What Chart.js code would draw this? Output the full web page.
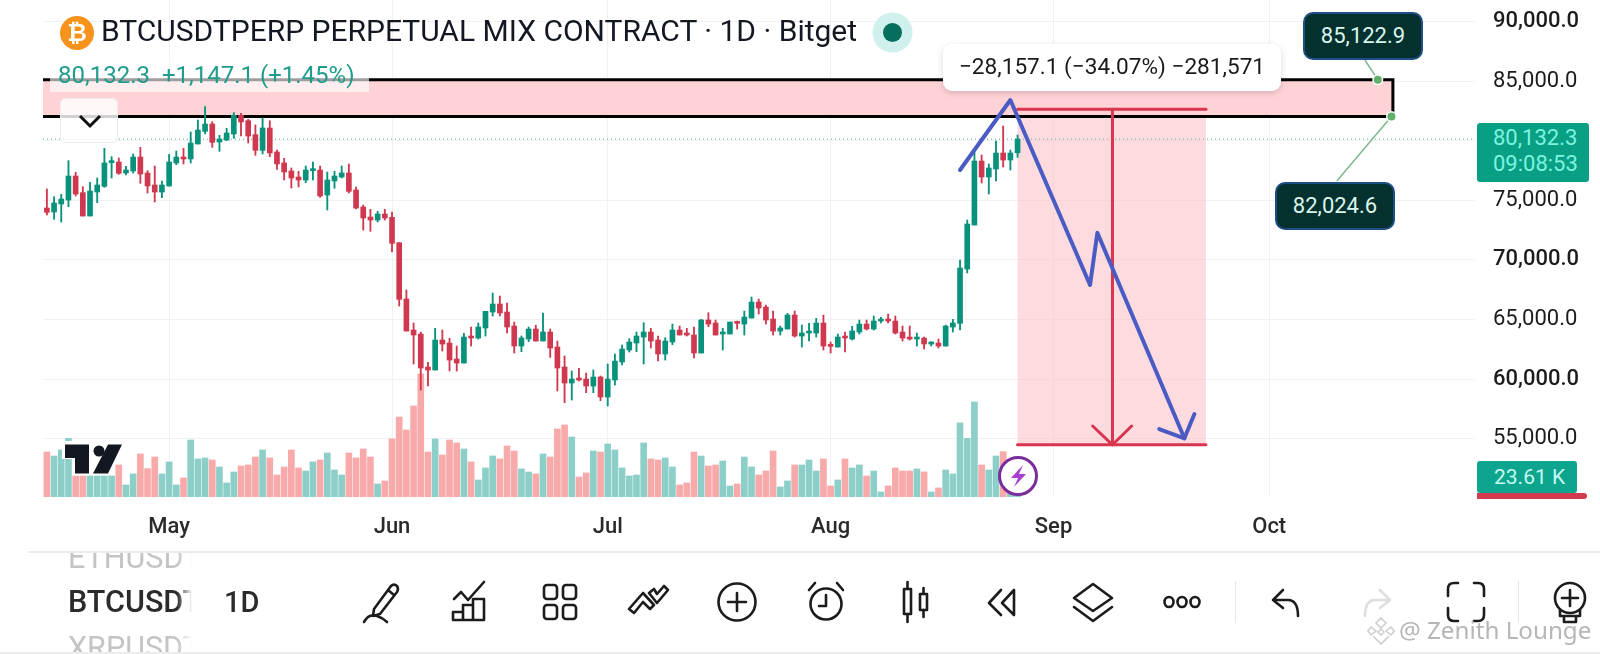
<!DOCTYPE html>
<html>
<head>
<meta charset="utf-8">
<title>BTCUSDTPERP 1D</title>
<script src="https://cdn.jsdelivr.net/npm/chart.js@4"></script>
<style>
    html, body { margin: 0; padding: 0; background: #fff; width: 1600px; height: 654px; overflow: hidden; font-family: Roboto, sans-serif; }
    #wrap { position: relative; width: 1600px; height: 654px; }
    canvas { position: absolute; left: 0; top: 0; }
    .abs { position: absolute; white-space: nowrap; }
    .callout { background: #04302d; border: 2px solid #1d4f86; border-radius: 10px; color: #d9f6ef; font-size: 22px; text-align: center; box-sizing: border-box; }
    .symbol { overflow: hidden; font-size: 30.5px; -webkit-mask-image: linear-gradient(to right, #000 88%, transparent); mask-image: linear-gradient(to right, #000 88%, transparent); }
    .icon { position: absolute; top: 580px; width: 44px; height: 44px; fill: none; stroke: #1c1c1c; stroke-width: 2.6; stroke-linecap: round; stroke-linejoin: round; }
</style>
</head>
<body>
<div id="wrap">
    <canvas id="chart" width="1600" height="654"></canvas>

    <!-- header -->
    <svg class="abs" style="left:59px;top:15px" width="36" height="36" viewBox="0 0 36 36">
        <circle cx="18" cy="18" r="17" fill="#f7931a"/>
    </svg>
    <div class="abs" style="left:59px;top:15px;width:36px;line-height:36px;text-align:center;color:#fff;font-size:24px;font-weight:700;">₿</div>
    <div class="abs" style="left:101px;top:13px;font-size:30px;line-height:36px;color:#131722;">BTCUSDTPERP PERPETUAL MIX CONTRACT · 1D · Bitget</div>
    <svg class="abs" style="left:872px;top:12px" width="41" height="41" viewBox="0 0 41 41">
        <circle cx="20.5" cy="20.5" r="20" fill="#cff0ec"/>
        <circle cx="20.5" cy="20.5" r="9.5" fill="#056e5c"/>
    </svg>
    <div class="abs" style="left:50px;top:62px;width:319px;height:30px;background:rgba(255,255,255,.62);"></div>
    <div class="abs" style="left:58px;top:61px;font-size:24px;line-height:28px;color:#1f9c8b;">80,132.3&nbsp; +1,147.1 (+1.45%)</div>
    <div class="abs" style="left:60px;top:98px;width:58px;height:45px;box-sizing:border-box;background:rgba(255,255,255,.82);border:1px solid #ececec;border-radius:5px;"></div>
    <svg class="abs" style="left:76px;top:112px" width="28" height="18" viewBox="0 0 28 18">
        <path d="M4 4 L14 14 L24 4" fill="none" stroke="#111" stroke-width="3"/>
    </svg>

    <!-- drawing labels -->
    <div class="abs" style="left:943px;top:44px;width:338px;height:47px;line-height:46px;text-align:center;background:#fff;border-radius:9px;box-shadow:0 2px 6px rgba(0,0,0,.16);font-size:22.6px;color:#1a1a1a;">−28,157.1 (−34.07%) −281,571</div>
    <div class="abs callout" style="left:1303px;top:12px;width:120px;height:48px;line-height:44px;">85,122.9</div>
    <div class="abs callout" style="left:1275px;top:182px;width:120px;height:48px;line-height:44px;">82,024.6</div>

    <!-- price scale labels -->
    <div class="abs" style="left:1477px;top:123px;width:112px;height:59px;background:#089f85;border-radius:3px;color:#7df3df;font-size:22px;line-height:26px;padding:2px 0 0 16px;box-sizing:border-box;">80,132.3<br>09:08:53</div>
    <div class="abs" style="left:1477px;top:493px;width:110px;height:6px;background:#d23a50;border-radius:0 4px 4px 0;"></div>
    <div class="abs" style="left:1477px;top:461px;width:100px;height:32px;background:#0ea58f;border-radius:3px;color:#c4fbf0;font-size:21px;line-height:32px;padding-left:17px;box-sizing:border-box;">23.61 K</div>

    <!-- tradingview logo -->
    <svg class="abs" style="left:62px;top:441px" width="62" height="36" viewBox="0 0 62 36">
        <rect x="0" y="0" width="10" height="18" fill="#fff"/>
        <path d="M3 3.5 H27 V32.5 H13 V17 H3 Z" fill="#131722"/>
        <circle cx="37" cy="10" r="5.5" fill="#131722"/>
        <path d="M46 3.5 H60 L46 32.5 H31 Z" fill="#131722"/>
    </svg>

    <!-- lightning badge -->
    <svg class="abs" style="left:997px;top:455px" width="42" height="42" viewBox="0 0 42 42">
        <circle cx="21" cy="21" r="18.5" fill="#fff" stroke="#7b2d9b" stroke-width="3"/>
        <path d="M26 10 L14 23 H21 L17 32 L29 19 H22 Z" fill="#a83fd0"/>
    </svg>

    <!-- bottom toolbar -->
    <div class="abs" style="left:28px;top:551px;width:1572px;height:2px;background:#ececec;"></div>
    <div class="abs symbol" style="left:68px;top:553px;width:124px;height:16px;line-height:9px;color:#c4c4c4;">ETHUSDT</div>
    <div class="abs symbol" style="left:68px;top:585px;width:124px;height:34px;line-height:34px;color:#2b2b2b;font-weight:500;">BTCUSDT</div>
    <div class="abs" style="left:224px;top:585px;font-size:29px;line-height:34px;color:#2b2b2b;font-weight:500;">1D</div>
    <div class="abs symbol" style="left:68px;top:636px;width:124px;height:16px;line-height:23px;color:#c4c4c4;">XRPUSDT</div>
    <div class="abs" style="left:0;top:652px;width:1600px;height:2px;background:#ececec;"></div>

    <svg class="icon" style="left:361px" viewBox="0 0 44 44"><path d="M13 29 L30 6 Q33 3 36 6 Q38 9 36 12 L19 34 L12 36 Z M27 10 L33 15"/><path d="M3 42 Q8 33 16 36 Q22 38 26 42"/></svg>
    <svg class="icon" style="left:448px" viewBox="0 0 44 44"><path d="M6 19 L13 12 L20 20 L36 2"/><path d="M5 40 V32 H15 V40 M15 40 V25 H25 V40 M25 40 V19 H36 V40 Z M5 40 H36"/></svg>
    <svg class="icon" style="left:538px" viewBox="0 0 44 44"><rect x="6" y="5" width="13" height="14" rx="3"/><rect x="25" y="5" width="13" height="14" rx="3"/><rect x="6" y="25" width="13" height="14" rx="3"/><rect x="25" y="25" width="13" height="14" rx="3"/></svg>
    <svg class="icon" style="left:626px" viewBox="0 0 44 44"><path d="M3 29 L17 13 L28 25 L24 29 L17 22 L8 33 Z"/><path d="M23 13 L28 9 L31 14 L38 6 L42 10 L31 23 Z"/></svg>
    <svg class="icon" style="left:715px" viewBox="0 0 44 44"><circle cx="22" cy="22" r="18.5"/><path d="M22 13 V31 M13 22 H31"/></svg>
    <svg class="icon" style="left:804px" viewBox="0 0 44 44"><circle cx="22" cy="24" r="15.5"/><path d="M22 15 V26 H15 M5 10 L11 3 M39 10 L33 3"/></svg>
    <svg class="icon" style="left:894px" viewBox="0 0 44 44"><rect x="10" y="9" width="7" height="25"/><rect x="26" y="14" width="7" height="16"/><path d="M13.500 2 V9 M13.500 34 V42 M29.500 8 V14 M29.500 30 V37"/></svg>
    <svg class="icon" style="left:982px" viewBox="0 0 44 44"><path d="M19 10 L7 23 L19 35 M32 10 L20 23 L32 35 V10"/></svg>
    <svg class="icon" style="left:1071px" viewBox="0 0 44 44"><path d="M22 4 L41 18 L22 31 L3 18 Z M3 27 L22 41 L41 27"/></svg>
    <svg class="icon" style="left:1160px" viewBox="0 0 44 44"><ellipse cx="9" cy="22" rx="4.500" ry="5"/><ellipse cx="22" cy="22" rx="4.500" ry="5"/><ellipse cx="35" cy="22" rx="4.500" ry="5"/></svg>
    <div class="abs" style="left:1235px;top:581px;width:1px;height:42px;background:#e6e6e6;"></div>
    <svg class="icon" style="left:1265px" viewBox="0 0 44 44"><path d="M18 10 L8 20 L18 28 M9 20 H24 Q33 21 33 36"/></svg>
    <svg class="icon" style="left:1354px;stroke:#dedede" viewBox="0 0 44 44"><path d="M26 10 L36 20 L26 28 M35 20 H20 Q11 21 11 36"/></svg>
    <svg class="icon" style="left:1444px" viewBox="0 0 44 44"><path d="M4 16 V9 Q4 3 10 3 H14 M30 3 H34 Q40 3 40 9 V16 M40 28 V35 Q40 41 34 41 H30 M14 41 H10 Q4 41 4 35 V28"/></svg>
    <div class="abs" style="left:1518px;top:581px;width:1px;height:42px;background:#e6e6e6;"></div>
    <svg class="icon" style="left:1548px" viewBox="0 0 44 44"><circle cx="22" cy="18" r="15"/><path d="M22 10 V26 M14 18 H30 M12 30 V36 H32 V30 M16 36 V42 H28 V36"/></svg>

    <!-- watermark -->
    <svg class="abs" style="left:1367px;top:616px" width="28" height="30" viewBox="0 0 28 30" fill="none" stroke="#cfcfcf" stroke-width="1.600">
        <path d="M14 2 L19 7 L14 12 L9 7 Z M4 11 L9 15 L4 19 L0.800 15 Z M24 11 L27.200 15 L24 19 L19 15 Z M14 13 L17 16 L14 19 L11 16 Z M6 20 L14 28 L22 20"/>
    </svg>
    <div class="abs" style="left:1399px;top:614px;font-family:'Noto Sans',sans-serif;font-size:24.2px;line-height:32px;color:#b6b6b6;">@ Zenith Lounge</div>
</div>

<script>
    'use strict';

    // Candles, oldest first (one per day, first one is mid April)
    const opens = [74354,74018,74689,75025,77039,75640,73682,75696,76172,78158,78213,77290,77458,78633,77290,76284,75696,76200,78130,78633,
        78465,79724,80787,81402,79892,80059,80563,82129,81682,80507,79192,81066,79053,78130,77458,76955,76703,77486,77542,75444,
        76619,76955,77290,75864,74438,73598,73347,73850,73571,71445,66719,64117,63782,61013,60761,63278,63027,61684,61348,63530,
        63446,64285,65628,66299,65628,64453,62775,63362,64201,63194,63950,62691,61013,59670,60006,60006,59418,60174,58495,59922,
        61432,62439,63027,63530,63950,63278,62104,63110,64117,63782,63698,62187,64956,64705,63782,63780,64787,64619,65123,66465,
        66046,65039,64032,64200,65374,63612,63864,63864,64703,62829,62689,63528,63361,63948,64619,64200,64871,64955,64871,63948,
        63528,63361,63444,62941,63025,62773,64367,64675,69234,72926,78296,76954,77625,78968,78380,78985];
    const closes = [73990,74773,75109,77039,75528,73682,75780,76284,78130,78213,77262,77542,78633,77207,76200,75696,76284,78213,78633,78465,
        79808,80899,81402,79864,80143,80647,82129,81570,80395,79192,81066,78969,78046,77374,76871,76703,77542,77542,75361,76703,
        77039,77290,75752,74354,73515,73347,73850,73515,71389,66690,64033,63698,60929,60761,63278,62943,61600,61348,63530,63446,
        64369,65684,66299,65544,64369,62775,63446,64201,63194,63950,62607,60929,59670,60006,59922,59418,60174,58495,60006,61516,
        62523,63110,63614,63950,63194,62104,63194,64117,63698,63698,62187,64956,64621,63698,63866,64787,64675,65207,66465,65962,
        64955,64032,64284,65374,63612,63864,63948,64703,62773,62745,63528,63444,64032,64619,64200,64871,64955,64871,63864,63444,
        63361,63444,62941,63025,62773,64451,64703,69318,73010,78296,76954,77709,78968,78380,78968,80132.3];
    const highs = [75948,75305,75500,78325,77346,76144,76507,76871,79360,78661,78549,77850,78885,79444,77486,77878,76619,78857,79136,79360,
        80731,81738,82856,81598,80451,81038,82353,82297,81794,81318,81906,81682,79220,78521,77710,77430,77878,78213,77878,77374,
        77430,77878,78046,76116,74605,74242,74074,74242,74018,71445,67474,64705,63950,61404,64257,64117,63418,62775,63838,64369,
        64705,65684,67222,66970,66383,64789,63614,64369,64509,65544,64201,63194,61936,60677,60901,60509,60761,60258,61264,62104,
        62859,63390,63950,64733,64257,63614,63474,64621,64453,64257,64369,65012,65572,64956,64257,64787,64871,65710,66885,66717,
        66213,65710,64451,65514,65710,64535,64675,65095,65374,63109,63780,63948,64423,64955,64955,65290,65179,65458,65290,64451,
        64451,63864,63528,63137,63361,64535,65011,69989,73346,79080,78800,78045,79975,81233,79219,80478];
    const lows = [73766,73403,73179,74465,75361,73682,73682,74801,76088,76871,77179,77123,77290,76423,75612,74857,75221,76200,77990,78046,
        78130,79724,80563,79444,79109,80004,80199,80395,79808,78773,78885,78661,77598,76703,76032,76116,76479,76703,75249,74186,
        76004,76871,75612,74270,72508,72396,73179,73347,70662,66130,64033,61264,59083,59418,60761,62355,60677,60677,61348,62775,
        63362,63614,65292,65292,63866,62187,62299,63138,63194,63194,61824,58999,58018,58245,59838,58860,58860,58190,57740,59502,
        61181,62271,62299,61264,62607,61516,61600,62887,63698,63614,61768,62187,64397,63698,62439,63780,64200,63696,65123,65458,
        64619,63696,63696,64200,63528,62689,63193,63528,62437,62186,62689,62270,63277,63780,64116,64116,64703,64703,63780,63193,
        63277,62773,62521,62773,62605,62773,63948,64116,68899,72926,76450,75527,76618,77793,77541,78604];
    const volumes = [53.1,48.4,55.5,69.3,24.8,24.8,24.8,24.8,24.8,24.8,37.8,14.2,27.2,50.8,33.5,47.2,27.2,41.4,14.2,22.5,
        67.3,44.9,46.1,43.7,35.4,16.6,29.5,36.6,37.8,47.2,55.5,46.1,26,35.4,55.5,34.3,30.7,41.4,43.7,52,
        31.9,26,52,46.1,56.7,47.2,15.4,18.9,68.5,94.4,79.1,107.4,145.2,53.1,68.5,49.6,67.3,63.8,56.7,41.4,
        20.1,34.3,48.4,44.9,60.2,54.3,33.1,29.5,27.2,50.8,47.2,80.3,85,70.8,23.6,28.4,54.3,53.1,62.6,55.5,
        34.3,24.8,26,63.8,44.9,43.7,46.1,35.4,14.2,16.6,53.1,48.4,36.6,37.8,42.5,13,15.4,47.2,35.4,26,
        30.7,54.3,11.9,18.9,37.8,37.8,43.7,30.7,44.9,13,20.1,44.9,34.3,37.8,24.8,30.7,6,13,34.3,30.7,
        30.7,33.1,29.6,6,10.7,31.9,27.2,87.4,69.3,112.1,37.8,31.9,48.4,53.5,30,23.61];

    // Axis labels
    const monthLabels = ['May', 'Jun', 'Jul', 'Aug', 'Sep', 'Oct'];
    const monthIndexes = [17, 48, 78, 109, 140, 170];
    const priceTicks = [55000, 60000, 65000, 70000, 75000, 80000, 85000, 90000];
    const boldTicks = [60000, 70000, 90000];

    // Drawings, in candle index / price
    const lastPrice = 80132.3;
    const zoneIndexes = [-0.6, 187.2];
    const zonePrices = [85122.9, 82024.6];
    const zoneDots = [185.1, 187.0];
    const calloutAnchorIndexes = [183.3, 179.4];
    const calloutAnchorPrices = [86771, 76617];
    const shortIndexes = [135, 161.2];
    const shortPrices = [82645, 54488];
    const pathIndexes = [127, 134, 145.08, 146.1, 158.2];
    const pathPrices = [77542, 83415, 67894, 72282, 55032];
    const pathHeadIndexes = [154.7, 158.2, 159.6];
    const pathHeadPrices = [55812, 55032, 57070];
    const arrowIndexes = [148.2, 148.2];
    const arrowHeadIndexes = [145.45, 148.2, 150.87];
    const arrowHeadPrices = [56064, 54488, 56064];

    const upColor = '#08917b';
    const downColor = '#cf384f';
    const upVolume = '#8ccfc8';
    const downVolume = '#f8a9a9';

    const isUp = closes.map((c, i) => c >= opens[i]);
    const candleColors = isUp.map(up => up ? upColor : downColor);
    const volumeColors = isUp.map(up => up ? upVolume : downVolume);

    function points(xs, ys) {
        return xs.map((x, i) => ({ x: x, y: ys[i] }));
    }

    // Zones and price line go under the candles, dots and connectors on top
    const drawingsPlugin = {
        id: 'drawings',
        beforeDatasetsDraw(chart) {
            const { ctx, scales: { x, y }, chartArea } = chart;
            ctx.save();
            ctx.beginPath();
            ctx.rect(chartArea.left, chartArea.top, chartArea.width, chartArea.height);
            ctx.clip();

            // short position box
            const sl = x.getPixelForValue(shortIndexes[0]);
            const sr = x.getPixelForValue(shortIndexes[1]);
            const st = y.getPixelForValue(shortPrices[0]);
            const sb = y.getPixelForValue(shortPrices[1]);
            ctx.fillStyle = 'rgba(253, 190, 198, 0.56)';
            ctx.fillRect(sl, st, sr - sl, sb - st);

            // resistance box
            const zl = x.getPixelForValue(zoneIndexes[0]);
            const zr = x.getPixelForValue(zoneIndexes[1]);
            const zt = y.getPixelForValue(zonePrices[0]);
            const zb = y.getPixelForValue(zonePrices[1]);
            ctx.fillStyle = '#ffd2d6';
            ctx.fillRect(zl, zt, zr - zl, zb - zt);
            ctx.strokeStyle = '#000';
            ctx.lineWidth = 3;
            ctx.beginPath();
            ctx.moveTo(zl, zt);
            ctx.lineTo(zr, zt);
            ctx.lineTo(zr, zb);
            ctx.lineTo(zl, zb);
            ctx.stroke();

            // last price
            const lp = y.getPixelForValue(lastPrice);
            ctx.strokeStyle = '#4fae9e';
            ctx.lineWidth = 1;
            ctx.setLineDash([1, 3]);
            ctx.beginPath();
            ctx.moveTo(chartArea.left, lp);
            ctx.lineTo(chartArea.right, lp);
            ctx.stroke();
            ctx.restore();
        },
        afterDatasetsDraw(chart) {
            const { ctx, scales: { x, y } } = chart;
            ctx.save();
            zoneDots.forEach((idx, i) => {
                const px = x.getPixelForValue(idx);
                const py = y.getPixelForValue(zonePrices[i]);
                ctx.strokeStyle = '#7fb78a';
                ctx.lineWidth = 1.5;
                ctx.beginPath();
                ctx.moveTo(px, py);
                ctx.lineTo(x.getPixelForValue(calloutAnchorIndexes[i]), y.getPixelForValue(calloutAnchorPrices[i]));
                ctx.stroke();
                ctx.fillStyle = '#fff';
                ctx.beginPath();
                ctx.arc(px, py, 5.5, 0, Math.PI * 2);
                ctx.fill();
                ctx.fillStyle = '#62b06c';
                ctx.beginPath();
                ctx.arc(px, py, 4, 0, Math.PI * 2);
                ctx.fill();
            });
            ctx.restore();
        }
    };

    function lineDataset(xs, ys, color, width) {
        return {
            type: 'line',
            data: points(xs, ys),
            borderColor: color,
            borderWidth: width,
            pointRadius: 0,
            tension: 0,
            fill: false,
            borderCapStyle: 'round',
            borderJoinStyle: 'round',
            order: 0
        };
    }

    const indexes = opens.map((o, i) => i);
    const redLine = '#d8354f';
    const blueLine = '#4a5cc4';

    new Chart(document.getElementById('chart').getContext('2d'), {
        type: 'bar',
        plugins: [drawingsPlugin],
        data: {
            datasets: [
                lineDataset(pathIndexes, pathPrices, blueLine, 4),
                lineDataset(pathHeadIndexes, pathHeadPrices, blueLine, 4),
                lineDataset(shortIndexes, [shortPrices[0], shortPrices[0]], redLine, 3),
                lineDataset(shortIndexes, [shortPrices[1], shortPrices[1]], redLine, 3),
                lineDataset(arrowIndexes, shortPrices, redLine, 3),
                lineDataset(arrowHeadIndexes, arrowHeadPrices, redLine, 3),
                {
                    data: indexes.map(i => ({ x: i, y: [opens[i], closes[i]] })),
                    backgroundColor: candleColors,
                    barThickness: 5,
                    minBarLength: 2,
                    grouped: false,
                    order: 1
                },
                {
                    data: indexes.map(i => ({ x: i, y: [lows[i], highs[i]] })),
                    backgroundColor: candleColors,
                    barThickness: 1.2,
                    grouped: false,
                    order: 2
                },
                {
                    data: indexes.map(i => ({ x: i, y: volumes[i] })),
                    backgroundColor: volumeColors,
                    yAxisID: 'yVol',
                    barThickness: 6,
                    grouped: false,
                    order: 3
                }
            ]
        },
        options: {
            responsive: false,
            animation: false,
            events: [],
            layout: { padding: { left: 43, right: 0, top: 0, bottom: 0 } },
            plugins: { legend: { display: false }, tooltip: { enabled: false } },
            scales: {
                x: {
                    type: 'linear',
                    offset: false,
                    min: -0.54,
                    max: 198.62,
                    border: { display: false },
                    grid: { color: '#f1f1f1', offset: false, drawTicks: false },
                    afterBuildTicks(scale) {
                        scale.ticks = monthIndexes.map(v => ({ value: v }));
                    },
                    afterFit(scale) {
                        scale.height = 157;
                        scale.paddingLeft = 0;
                        scale.paddingRight = 0;
                    },
                    ticks: {
                        autoSkip: false,
                        maxRotation: 0,
                        padding: 17,
                        color: '#2a2a2a',
                        font: { family: 'Roboto', size: 22, weight: 500 },
                        callback(value) {
                            return monthLabels[monthIndexes.indexOf(value)];
                        }
                    }
                },
                y: {
                    position: 'right',
                    min: 50108,
                    max: 91805,
                    border: { display: false },
                    grid: { color: '#f1f1f1', drawTicks: false },
                    afterBuildTicks(scale) {
                        scale.ticks = priceTicks.map(v => ({ value: v }));
                    },
                    afterFit(scale) {
                        scale.width = 125;
                        // labels near the top must not push the plot area down
                        scale.paddingTop = 0;
                        scale.paddingBottom = 0;
                    },
                    ticks: {
                        padding: 18,
                        color: '#1c1c1c',
                        font(ctx) {
                            const bold = boldTicks.includes(ctx.tick && ctx.tick.value);
                            return { family: 'Roboto', size: 22, weight: bold ? 500 : 400 };
                        },
                        callback(value) {
                            return value.toLocaleString('en-US', { minimumFractionDigits: 1 });
                        }
                    }
                },
                yVol: {
                    display: false,
                    min: 0,
                    max: 586.5
                }
            }
        }
    });
</script>
</body>
</html>
